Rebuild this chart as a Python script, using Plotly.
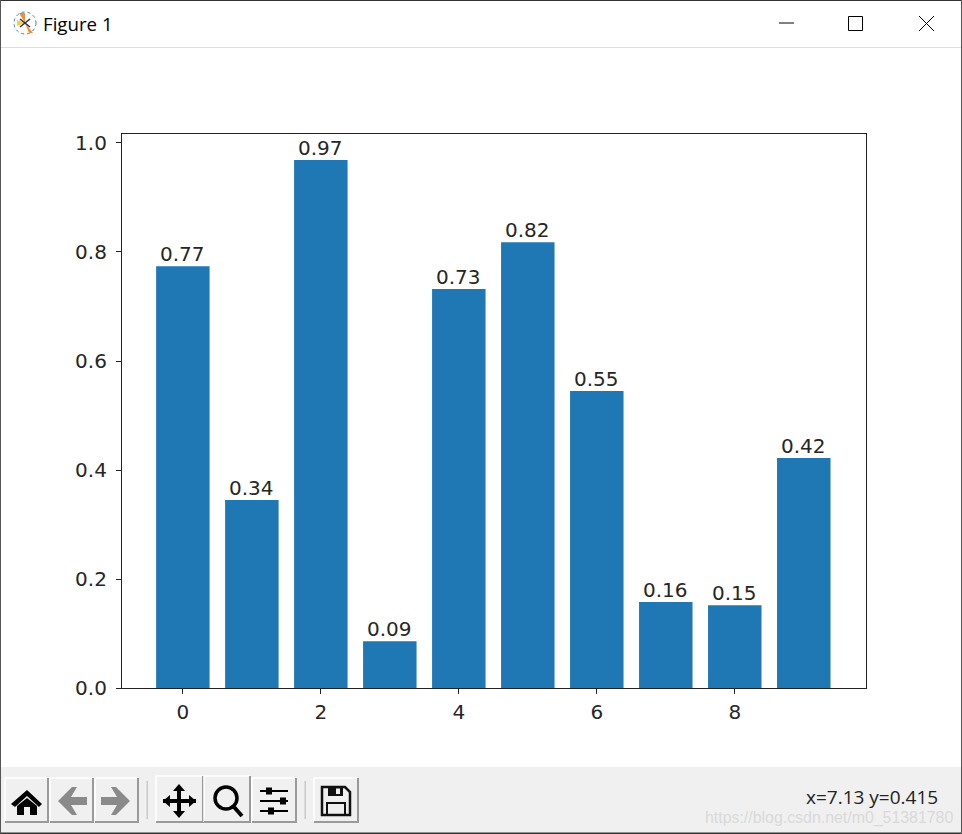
import plotly.graph_objects as go

# chart data
bar_positions = [0, 1, 2, 3, 4, 5, 6, 7, 8, 9]
bar_values = [0.774, 0.345, 0.969, 0.086, 0.732, 0.818, 0.545, 0.158, 0.152, 0.422]
bar_labels = ["0.77", "0.34", "0.97", "0.09", "0.73", "0.82", "0.55", "0.16", "0.15", "0.42"]
x_ticks = [0, 2, 4, 6, 8]
y_ticks = [0.0, 0.2, 0.4, 0.6, 0.8, 1.0]
y_tick_labels = ["0.0", "0.2", "0.4", "0.6", "0.8", "1.0"]

W, H = 962, 834
L, R, T, B = 122, 866, 134, 688
shapes = []


def px(x):
    return (x - L) / (R - L)


def py(y):
    return (B - y) / (B - T)


def rect(x0, y0, x1, y1, fill, line=None, lw=0):
    shapes.append(dict(type="rect", xref="paper", yref="paper", layer="below",
                       x0=px(x0), x1=px(x1), y0=py(y1), y1=py(y0),
                       fillcolor=fill, line=dict(color=line or fill, width=lw)))


def path(points, fill=None, line="#000000", lw=1.0, close=True, layer="below"):
    d = "M " + " L ".join(f"{px(a):.5f},{py(b):.5f}" for a, b in points)
    if close:
        d += " Z"
    shapes.append(dict(type="path", xref="paper", yref="paper", layer=layer, path=d,
                       fillcolor=fill if fill else "rgba(0,0,0,0)",
                       line=dict(color=line if line else "rgba(0,0,0,0)", width=lw)))


def circle(cx, cy, r, fill=None, line="#000000", lw=1.0, dash="solid"):
    shapes.append(dict(type="circle", xref="paper", yref="paper", layer="below",
                       x0=px(cx - r), x1=px(cx + r), y0=py(cy + r), y1=py(cy - r),
                       fillcolor=fill if fill else "rgba(0,0,0,0)",
                       line=dict(color=line, width=lw, dash=dash)))


def button(x0, y0, x1, y1):
    rect(x0, y0, x1, y1, "#f0f0f0")
    path([(x0, y1), (x0, y0), (x1, y0)], line="#ffffff", lw=1.5, close=False)
    path([(x0, y1), (x1, y1), (x1, y0)], line="#9a9a9a", lw=2, close=False)


# window frame and title bar
rect(0, 47, W, 48, "#dedede")
rect(0, 767, W, 834, "#f0f0f0")
rect(0, 0, W, 1, "#333333")
rect(0, 832.5, W, 834, "#333333")
rect(0, 0, 1, H, "#555555")
rect(W - 1, 0, W, H, "#555555")

# window buttons
path([(779, 23), (794, 23)], close=False, lw=1)
rect(848.5, 16.5, 862.5, 30.5, "rgba(0,0,0,0)", "#000000", 1)
path([(919, 16), (934, 31)], close=False, lw=1)
path([(934, 16), (919, 31)], close=False, lw=1)

# application icon
circle(25, 23, 11, fill="#ffffff", line="#4a7f9c", lw=1, dash="dot")
path([(25, 23), (19, 13), (25, 13)], fill="#f28c38", line=None, lw=0)
path([(25, 23), (33, 33), (29, 33)], fill="#f28c38", line=None, lw=0)
path([(25, 23), (17, 20), (17, 26)], fill="#f4d03f", line=None, lw=0)
path([(20, 19), (30, 27)], close=False, line="#333333", lw=1.5)
path([(30, 19), (20, 27)], close=False, line="#333333", lw=1.5)

# toolbar buttons
for b in [(5, 778, 48, 822), (50, 778, 93, 822), (95, 778, 138, 822),
          (156, 776, 203, 822), (204, 776, 250, 822), (252, 778, 296, 822),
          (314, 778, 358, 822)]:
    button(*b)
rect(146.5, 781, 148, 819, "#c8c8c8")
rect(304.5, 781, 306, 819, "#c8c8c8")

# home icon
path([(11, 804), (27, 790), (42, 804), (39, 807), (27, 796), (15, 807)], fill="#000000", line=None, lw=0)
path([(17, 806), (27, 798), (37, 806), (37, 815), (30, 815), (30, 807), (24, 807), (24, 815), (17, 815)],
     fill="#000000", line=None, lw=0)
# back and forward icons
path([(58, 801), (72, 787), (77, 787), (71, 797), (87, 797), (87, 805), (71, 805), (77, 815), (72, 815)],
     fill="#8a8a8a", line=None, lw=0)
path([(130, 801), (116, 787), (111, 787), (117, 797), (101, 797), (101, 805), (117, 805), (111, 815), (116, 815)],
     fill="#8a8a8a", line=None, lw=0)
# pan icon
path([(163, 801), (196, 801)], close=False, lw=4)
path([(179, 786), (179, 816)], close=False, lw=4)
path([(163, 801), (170, 795), (170, 807)], fill="#000000", line=None, lw=0)
path([(196, 801), (189, 795), (189, 807)], fill="#000000", line=None, lw=0)
path([(179, 784), (173, 791), (185, 791)], fill="#000000", line=None, lw=0)
path([(179, 818), (173, 811), (185, 811)], fill="#000000", line=None, lw=0)
# zoom icon
circle(226, 798, 11, line="#000000", lw=3.5)
path([(234, 807), (242, 816)], close=False, lw=4)
# configure icon
for yy, kx in [(791, 269), (801, 283), (811, 271)]:
    path([(260, yy), (288, yy)], close=False, lw=2)
    rect(kx - 3, yy - 3.5, kx + 3, yy + 3.5, "#000000")
# save icon
path([(322, 787), (345, 787), (350, 792), (350, 815), (322, 815)], line="#111111", lw=2.5)
rect(328, 787, 343, 796, "#111111")
rect(336, 788.5, 340, 794, "#f0f0f0")
rect(327, 803, 345, 815, "rgba(0,0,0,0)", "#111111", 2)

annotations = [
    dict(text="Figure 1", x=px(41), y=py(23), xref="paper", yref="paper", xanchor="left", yanchor="middle",
         showarrow=False, font=dict(family="Open Sans", size=18.7, color="#000000")),
    dict(text="x=7.13 y=0.415", x=px(939), y=py(797), xref="paper", yref="paper", xanchor="right", yanchor="middle",
         borderpad=0, showarrow=False, font=dict(family="Open Sans", size=19, color="#222222")),
    dict(text="https://blog.csdn.net/m0_51381780", x=px(953.5), y=py(818), xref="paper", yref="paper", xanchor="right",
         borderpad=0, yanchor="middle", showarrow=False, font=dict(family="Liberation Sans", size=15.9, color="#d9d9d9")),
]
for pos, val, lab in zip(bar_positions, bar_values, bar_labels):
    annotations.append(dict(text=lab, x=pos, y=val, xref="x", yref="y", xanchor="center", yanchor="middle",
                            yshift=12, showarrow=False,
                            font=dict(family="DejaVu Sans", size=20, color="#262626")))

fig = go.Figure(go.Bar(
    x=bar_positions, y=bar_values, width=0.775, marker=dict(color="#1f77b4", line=dict(width=0)),
    hoverinfo="skip",
))
fig.update_layout(
    width=W, height=H, autosize=False, showlegend=False,
    margin=dict(l=L, r=W - R, t=T, b=H - B, pad=0),
    paper_bgcolor="#ffffff", plot_bgcolor="rgba(0,0,0,0)",
    shapes=shapes, annotations=annotations,
    font=dict(family="DejaVu Sans", size=20, color="#262626"),
)
axis_style = dict(showgrid=False, zeroline=False, showline=True, mirror=True, linecolor="#222222", linewidth=1.2,
                  ticks="outside", ticklen=5, tickwidth=1.2, tickcolor="#222222")
fig.update_xaxes(range=[-0.882, 9.902], tickmode="array", tickvals=x_ticks, ticktext=[str(t) for t in x_ticks],
                 ticklabelstandoff=1, tickfont=dict(family="DejaVu Sans", size=20, color="#262626"), **axis_style)
fig.update_yaxes(range=[0, 1.0165], tickmode="array", tickvals=y_ticks, ticktext=y_tick_labels,
                 ticklabelstandoff=5, tickfont=dict(family="DejaVu Sans", size=20, color="#262626"), **axis_style)

fig.write_html("out.html", config=dict(displayModeBar=False),
               post_script="document.body.style.margin='0';document.body.style.overflow='hidden';")
